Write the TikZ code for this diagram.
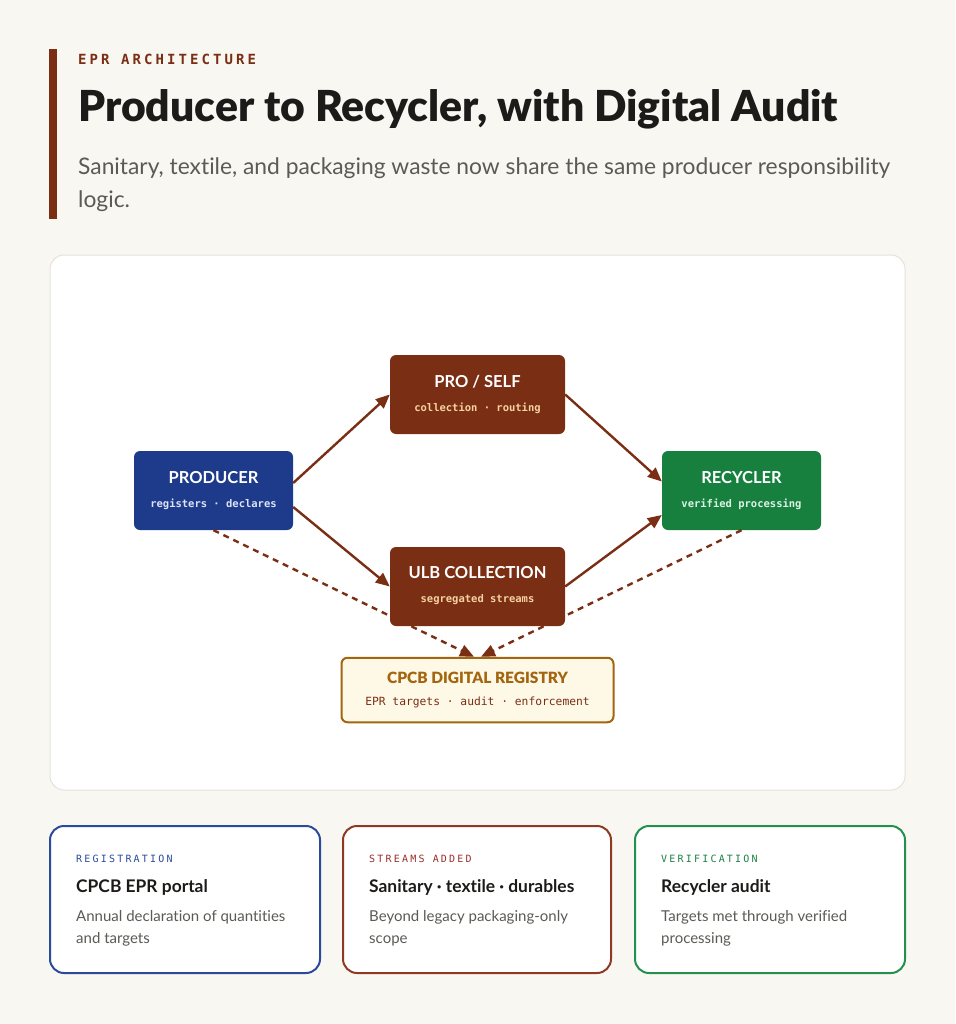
\documentclass[tikz,border=0pt]{standalone}
\usepackage{fontspec}
\setmainfont{Lato}[Ligatures=NoCommon]
\newfontfamily\blackfont{Lato Black}
\newfontfamily\codefont{DejaVu Sans Mono}
\newfontfamily\kickerfont[LetterSpace=22]{DejaVu Sans Mono}
\usetikzlibrary{arrows.meta}

\definecolor{pagebg}{HTML}{F9F7F2}
\definecolor{rust}{HTML}{7A2E14}
\definecolor{navy}{HTML}{1E3A8A}
\definecolor{leaf}{HTML}{17803F}
\definecolor{cream}{HTML}{FEF9E6}
\definecolor{ochre}{HTML}{A3650F}
\definecolor{ink}{HTML}{1C1B19}
\definecolor{slate}{HTML}{5C5A55}
\definecolor{peach}{HTML}{F6D2A2}
\definecolor{paleblue}{HTML}{DCE4F7}
\definecolor{palegreen}{HTML}{DDF3E4}
\definecolor{panelline}{HTML}{E6E2D9}
\definecolor{cardblue}{HTML}{2B4A9B}
\definecolor{cardrust}{HTML}{8E3A22}
\definecolor{cardgreen}{HTML}{23904D}
\definecolor{tagred}{HTML}{9B2D2D}
\definecolor{taggreen}{HTML}{1E7F45}

\begin{document}
\begin{tikzpicture}[x=1pt, y=-1pt, line join=round,
  flowbox/.style={rectangle, rounded corners=6pt, inner sep=0pt, minimum height=79},
  boxtitle/.style={anchor=base, inner sep=0pt, text=white, font=\bfseries\fontsize{16.5}{20}\selectfont},
  boxsub/.style={anchor=base, inner sep=0pt, font=\codefont\bfseries\fontsize{10.5}{13}\selectfont},
  flow/.style={draw=rust, line width=2.4pt, -{Triangle[length=14pt,width=12pt]}},
  audit/.style={flow, dash pattern=on 6pt off 5pt},
  card/.style={rectangle, rounded corners=14pt, fill=white, line width=2pt, minimum height=147, inner sep=0pt},
  cardtag/.style={anchor=base west, inner sep=0pt, font=\kickerfont\fontsize{10}{12}\selectfont},
  cardtitle/.style={anchor=base west, inner sep=0pt, text=ink, font=\bfseries\fontsize{17.4}{20}\selectfont},
  cardbody/.style={anchor=base west, inner sep=0pt, text=slate, font=\fontsize{15}{20}\selectfont}]

  %% ════ 底色 ════
  \fill[pagebg] (0,0) rectangle (955,1024);

  %% ════ 标题区 ════
  \fill[rust] (49,49) rectangle (56.5,219);
  \node[anchor=base west, inner sep=0pt, text=rust, font=\kickerfont\bfseries\fontsize{14}{16}\selectfont] (kicker) at (78,65) {EPR ARCHITECTURE};
  \node[anchor=base west, inner sep=0pt, text=ink, font=\blackfont\fontsize{42.7}{50}\selectfont] (headline) at (78,122) {Producer to Recycler, with Digital Audit};
  \node[anchor=base west, inner sep=0pt, text=slate, font=\fontsize{22.8}{30}\selectfont] (lede1) at (78,175) {Sanitary, textile, and packaging waste now share the same producer responsibility};
  \node[anchor=base west, inner sep=0pt, text=slate, font=\fontsize{22.8}{30}\selectfont] (lede2) at (78,208) {logic.};

  %% ════ 流程面板 ════
  \draw[panelline, fill=white, line width=1pt, rounded corners=14pt] (50,255) rectangle (905,790);

  \node[flowbox, fill=navy, minimum width=159] (prod) at (213.5,490.5) {};
  \node[flowbox, fill=rust, minimum width=175] (pro) at (477.5,394.5) {};
  \node[flowbox, fill=rust, minimum width=175] (ulb) at (477.5,586.5) {};
  \node[flowbox, fill=leaf, minimum width=159] (rec) at (741.5,490.5) {};
  \node[flowbox, fill=cream, draw=ochre, line width=2pt, minimum width=272, minimum height=64.5] (reg) at (477.5,690) {};

  \node[boxtitle] (prodtitle) at (213.5,483) {PRODUCER};
  \node[boxsub, text=paleblue] (prodsub) at (213.5,507) {registers · declares};
  \node[boxtitle] (protitle) at (477.5,387) {PRO / SELF};
  \node[boxsub, text=peach] (prosub) at (477.5,411) {collection · routing};
  \node[boxtitle] (ulbtitle) at (477.5,578.5) {ULB COLLECTION};
  \node[boxsub, text=peach] (ulbsub) at (477.5,602) {segregated streams};
  \node[boxtitle] (rectitle) at (741.5,483) {RECYCLER};
  \node[boxsub, text=palegreen] (recsub) at (741.5,507) {verified processing};
  \node[boxtitle, text=ochre, font=\blackfont\fontsize{15.5}{20}\selectfont] (regtitle) at (477.5,683) {CPCB DIGITAL REGISTRY};
  \node[boxsub, text=rust, font=\codefont\fontsize{11.3}{14}\selectfont] (regsub) at (477.5,705) {EPR targets · audit · enforcement};

  \draw[flow] ([yshift=7.5]prod.east) -- (pro.west);
  \draw[flow] ([yshift=-16.5]prod.east) -- (ulb.west);
  \draw[flow] (pro.east) -- ([yshift=9]rec.west);
  \draw[flow] (ulb.east) -- ([yshift=-24.5]rec.west);
  \draw[audit] (prod.south) -- ([xshift=-3.5]reg.north);
  \draw[audit] (rec.south) -- ([xshift=3.5]reg.north);

  %% ════ 底部卡片 ════
  \node[card, draw=cardblue, minimum width=270] (regcard) at (185,899.5) {};
  \node[card, draw=cardrust, minimum width=268] (streamcard) at (477,899.5) {};
  \node[card, draw=cardgreen, minimum width=270] (verifycard) at (770,899.5) {};

  \node[cardtag, text=cardblue] (regtag) at (76,862) {REGISTRATION};
  \node[cardtitle] (regname) at (76,892) {CPCB EPR portal};
  \node[cardbody] (regbody1) at (76,921) {Annual declaration of quantities};
  \node[cardbody] (regbody2) at (76,943) {and targets};

  \node[cardtag, text=tagred] (streamtag) at (369,862) {STREAMS ADDED};
  \node[cardtitle] (streamname) at (369,892) {Sanitary · textile · durables};
  \node[cardbody] (streambody1) at (369,921) {Beyond legacy packaging-only};
  \node[cardbody] (streambody2) at (369,943) {scope};

  \node[cardtag, text=taggreen] (verifytag) at (661,862) {VERIFICATION};
  \node[cardtitle] (verifyname) at (661,892) {Recycler audit};
  \node[cardbody] (verifybody1) at (661,921) {Targets met through verified};
  \node[cardbody] (verifybody2) at (661,943) {processing};

  % 钉死画布
  \pgfresetboundingbox
  \path[use as bounding box] (0,0) rectangle (955,1024);
\end{tikzpicture}
\end{document}
